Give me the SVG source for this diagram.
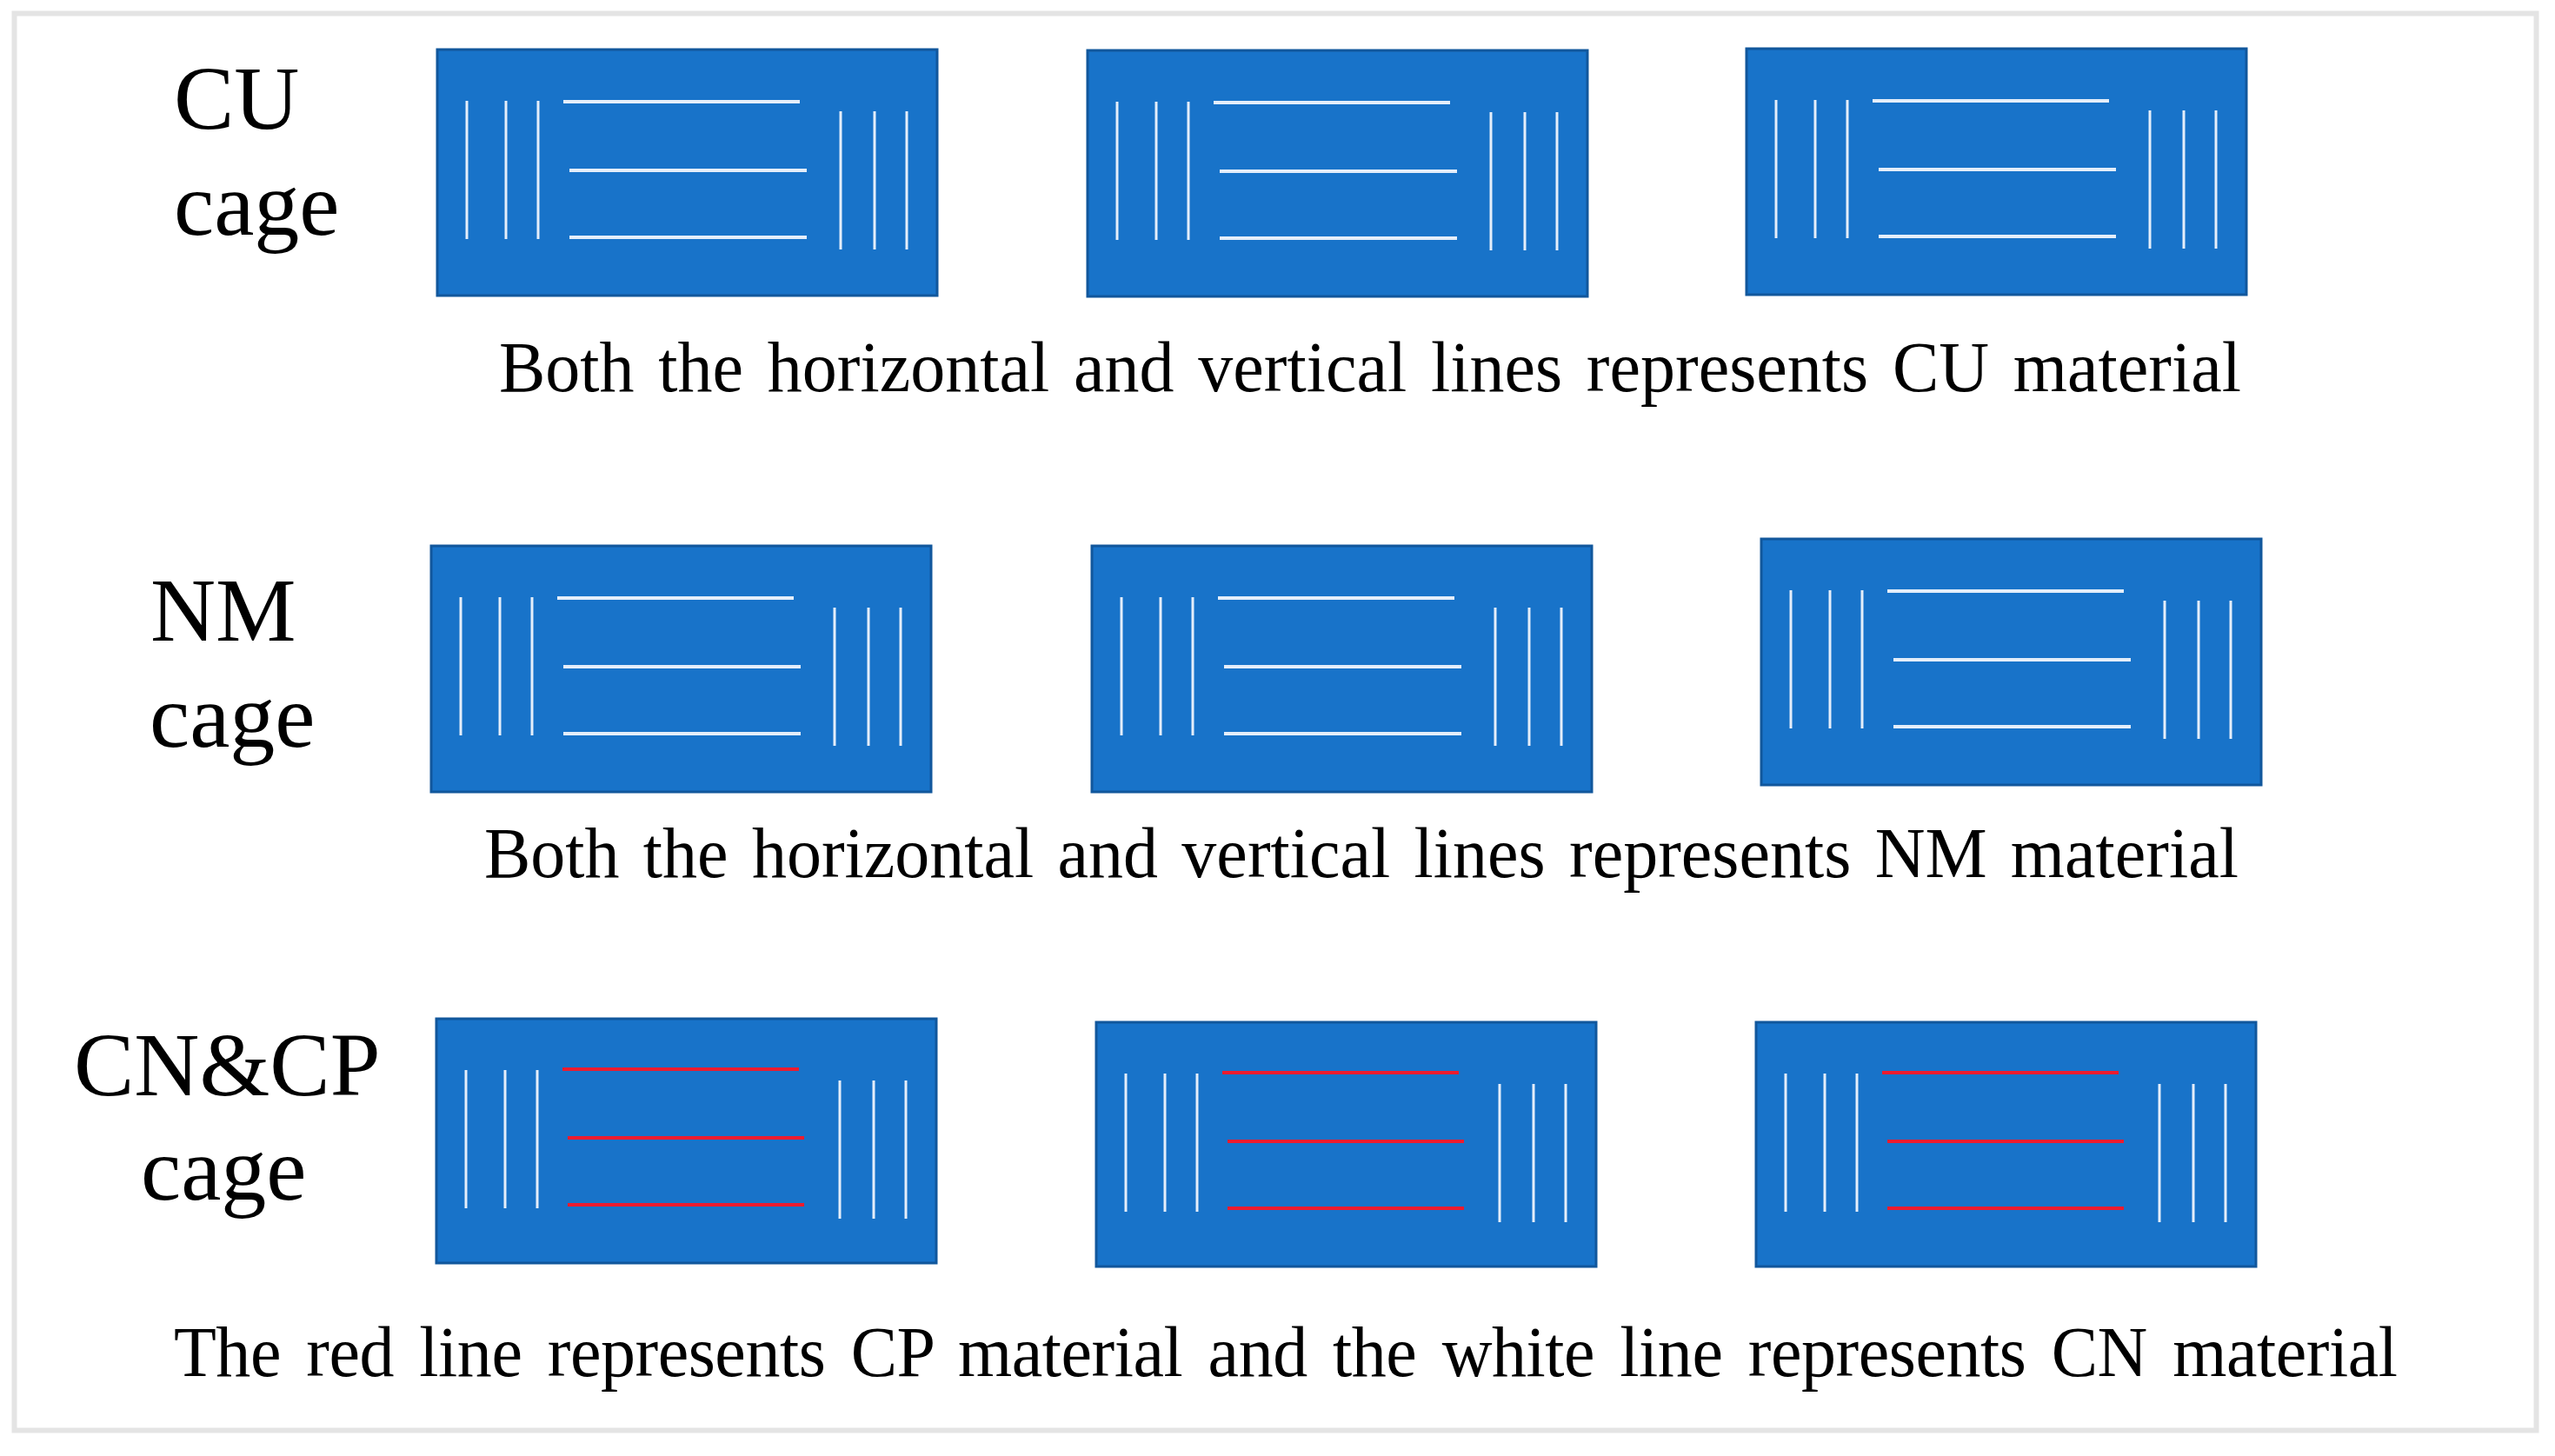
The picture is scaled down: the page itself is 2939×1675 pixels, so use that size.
<svg xmlns="http://www.w3.org/2000/svg" xmlns:xlink="http://www.w3.org/1999/xlink" width="2939" height="1675" viewBox="0 0 2939 1675">
<style>
.box{fill:#1873c9;stroke:#11579c;stroke-width:3}
.v{stroke:#e4eefa;stroke-width:3;stroke-linecap:butt}
.h{stroke:#e4eefa;stroke-width:4}
.r{stroke:#ee1b2e;stroke-width:4}
.lbl{font-family:"Liberation Serif","Times New Roman",serif;font-size:104px;fill:#000}
.cap{font-family:"Liberation Serif","Times New Roman",serif;font-size:80px;fill:#000}
</style>
<defs>
<g id="verts">
<line class="v" x1="34" y1="59" x2="34" y2="218"/>
<line class="v" x1="79" y1="59" x2="79" y2="218"/>
<line class="v" x1="116" y1="59" x2="116" y2="218"/>
<line class="v" x1="464" y1="71" x2="464" y2="230"/>
<line class="v" x1="503" y1="71" x2="503" y2="230"/>
<line class="v" x1="540" y1="71" x2="540" y2="230"/>
</g>
<g id="cage-w">
<rect class="box" x="0" y="0" width="575" height="283"/>
<use xlink:href="#verts"/>
<line class="h" x1="145" y1="60" x2="417" y2="60"/>
<line class="h" x1="152" y1="139" x2="425" y2="139"/>
<line class="h" x1="152" y1="216" x2="425" y2="216"/>
</g>
<g id="cage-r">
<rect class="box" x="0" y="0" width="575" height="281"/>
<use xlink:href="#verts"/>
<line class="r" x1="145" y1="58" x2="417" y2="58"/>
<line class="r" x1="151" y1="137" x2="423" y2="137"/>
<line class="r" x1="151" y1="214" x2="423" y2="214"/>
</g>
</defs>
<rect x="0" y="0" width="2939" height="1675" fill="#ffffff"/>
<rect x="16.5" y="15.5" width="2901" height="1630" fill="none" stroke="#e4e4e4" stroke-width="6"/>

<g id="row-cu">
<g id="cu-label"><text class="lbl" x="200" y="148">CU</text><text class="lbl" x="200" y="270">cage</text></g>
<g id="cu-1"><use xlink:href="#cage-w" x="503" y="57"/></g>
<g id="cu-2"><use xlink:href="#cage-w" x="1251" y="58"/></g>
<g id="cu-3"><use xlink:href="#cage-w" x="2009" y="56"/></g>
<g id="cu-caption"><text class="cap" x="574" y="450" transform="translate(0,450) scale(1,1.03) translate(0,-450)" word-spacing="7.75" textLength="2004" lengthAdjust="spacing">Both the horizontal and vertical lines represents CU material</text></g>
</g>

<g id="row-nm">
<g id="nm-label"><text class="lbl" x="173" y="737">NM</text><text class="lbl" x="172" y="859">cage</text></g>
<g id="nm-1"><use xlink:href="#cage-w" x="496" y="628"/></g>
<g id="nm-2"><use xlink:href="#cage-w" x="1256" y="628"/></g>
<g id="nm-3"><use xlink:href="#cage-w" x="2026" y="620"/></g>
<g id="nm-caption"><text class="cap" x="557" y="1009" transform="translate(0,1009) scale(1,1.03) translate(0,-1009)" word-spacing="7.25" textLength="2018" lengthAdjust="spacing">Both the horizontal and vertical lines represents NM material</text></g>
</g>

<g id="row-cncp">
<g id="cncp-label"><text class="lbl" x="85" y="1260">CN&amp;CP</text><text class="lbl" x="162" y="1380">cage</text></g>
<g id="cncp-1"><use xlink:href="#cage-r" x="502" y="1172"/></g>
<g id="cncp-2"><use xlink:href="#cage-r" x="1261" y="1176"/></g>
<g id="cncp-3"><use xlink:href="#cage-r" x="2020" y="1176"/></g>
<g id="cncp-caption"><text class="cap" x="200" y="1583" transform="translate(0,1583) scale(1,1.03) translate(0,-1583)" word-spacing="9.8" textLength="2558" lengthAdjust="spacing">The red line represents CP material and the white line represents CN material</text></g>
</g>
<g id="connectors"/>
</svg>
